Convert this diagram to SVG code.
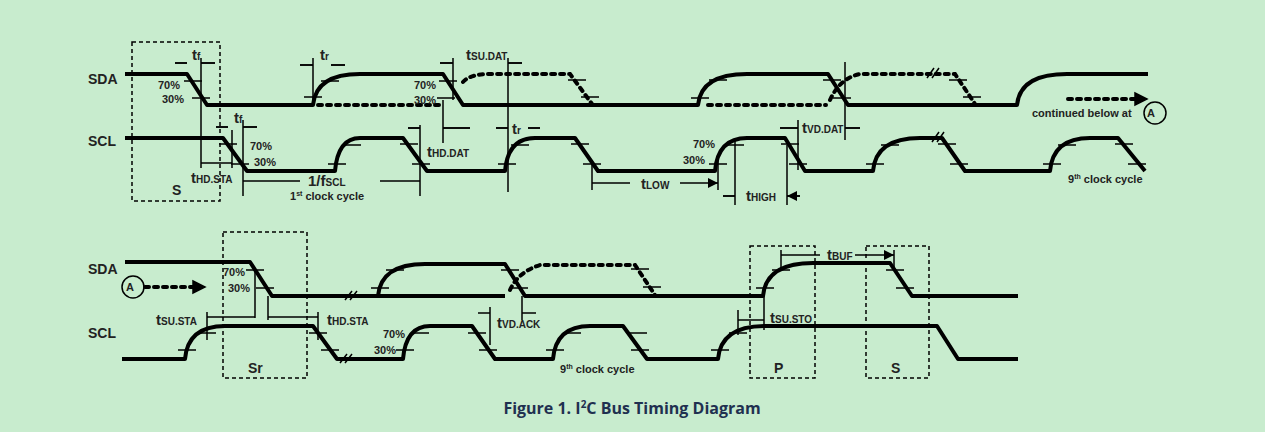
<svg xmlns="http://www.w3.org/2000/svg" width="1265" height="432" viewBox="0 0 1265 432">
<style>
.sig{fill:none;stroke:#000;stroke-width:4;stroke-linejoin:round}
.dot{fill:none;stroke:#000;stroke-width:4;stroke-dasharray:4 5;stroke-linecap:round}
.tk{stroke:#000;stroke-width:1.6}
.dim{stroke:#000;stroke-width:1.5;fill:none}
.box{fill:none;stroke:#000;stroke-width:1.5;stroke-dasharray:4 3}
text{font-family:"Liberation Sans",Arial,sans-serif;font-weight:bold;fill:#222}
.lb{font-size:14px}
.t{font-size:15px}
.s{font-size:10px}
.p{font-size:11px}
</style>
<defs>
<marker id="ah" viewBox="0 0 10 10" refX="10" refY="5" markerWidth="10" markerHeight="10" markerUnits="userSpaceOnUse" orient="auto"><path d="M0,0L10,5L0,10z" fill="#000"/></marker>
</defs>
<rect width="1265" height="432" fill="#c8ecce"/>
<g id="labels">
<text class="lb" x="88" y="84">SDA</text><text class="lb" x="88" y="146">SCL</text>
<text class="lb" x="88" y="274">SDA</text><text class="lb" x="88" y="338">SCL</text>
</g>
<g id="signals">
<path class="sig" d="M125,74H187L207,105H313Q316,74 360,74H443L463,105H698Q701,74 747,74H828L848,105H1017Q1020,74 1067,74H1148"/>
<path class="dot" d="M318,105H440M463,82Q470,74 490,74H570L592,104M708,105H826M830,100Q840,78 860,74H955L975,104"/>
<path class="sig" d="M125,138H223L247,171H335Q338,138 360,138H403L427,171H505Q508,138 535,138H575L598,171H715Q718,138 747,138H785L805,171H873Q876,138 920,138H942L965,171H1050Q1053,138 1090,138H1118L1145,171"/>
<path class="sig" d="M125,262H250L272,296H505M378,296Q381,264 425,264H505L525,296H763Q766,263 813,263H890L912,296H1018"/>
<path class="dot" d="M510,290Q518,272 540,265H635L655,295"/>
<path class="sig" d="M122,359H185Q188,326 225,326H313L337,359H403Q406,326 430,326H472L495,359H553Q556,326 590,326H623L647,359H718Q721,326 765,326H937L958,359H1018"/>
<path class="dim" stroke-width="2" d="M927,78l7,-10M932,78l7,-10M932,142l7,-10M937,142l7,-10M345,300l7,-9M350,300l7,-9M340,363l7,-9M345,363l7,-9"/>
</g>
<g id="ticks" class="tk">
<path d="M184,81h18M192,98h18M304,97h18M321,81h18M439,81h18M437,98h18M568,80h18M581,97h18M691,98h18M709,80h18M823,80h18M833,98h18M949,80h18M963,97h18
M219,144h18M231,164h18M328,164h18M343,145h18M400,144h18M412,164h18M498,164h18M511,145h18M571,144h18M583,164h18M709,164h18M726,145h18M781,144h18M789,164h18M866,164h18M881,145h18M938,144h18M950,164h18M1043,164h18M1058,145h18M1115,144h18M1128,164h18
M246,270h18M256,288h18M371,288h18M386,270h18M501,270h18M510,288h18M631,269h18M643,287h18M756,288h18M772,270h18M886,270h18M896,288h18
M178,350h18M198,333h18M309,333h18M321,350h18M396,350h18M411,333h18M468,333h18M479,350h18M546,350h18M563,333h18M629,333h18M631,350h18M711,350h18M729,333h18"/>
</g>
<g id="boxes">
<rect class="box" x="132" y="42" width="88" height="159"/>
<rect class="box" x="223" y="232" width="84" height="146"/>
<rect class="box" x="750" y="246" width="65" height="132"/>
<rect class="box" x="866" y="246" width="63" height="132"/>
<text class="lb" x="172" y="195">S</text><text class="lb" x="248" y="373">Sr</text>
<text class="lb" x="774" y="373">P</text><text class="lb" x="891" y="373">S</text>
</g>
<g id="connectors" class="dim">
<path d="M201,58V168M232,130V168M243,120V196M420,125V196M313,58V100M443,100V143M453,58V100M508,58V192M592,160V190M718,160V190M735,140V205M787,145V205M798,120V170M845,62V140"/>
<path d="M175,63H187M215,63H201M216,127H228M257,127H243M300,65H313M345,65H331M440,63H453M522,63H508M470,128H443M408,128H420M496,128H508M540,128H528M780,128H798M860,128H845M723,196H735M800,196H787"/>
<g marker-end="url(#ah)">
<path d="M175,63H187M215,63H201M216,127H228M257,127H243M300,65H313M345,65H331M440,63H453M522,63H508M470,128H443M408,128H420M496,128H508M540,128H528M780,128H798M860,128H845M723,196H735M800,196H787"/>
<path d="M216,163H201M216,163H232M300,181H243M380,181H420M630,183H592M680,183H718"/>
<path d="M231,317H207M231,317H255M293,317H268M293,317H318M478,313H490M536,313H522M751,320H738M751,320H764M820,255H781M855,255H894"/>
</g>
<path d="M207,312V340M255,270V318M268,296V320M318,312V340M490,307V345M522,296V320M738,310V335M764,296V330M781,250V268M894,250V268"/>
<path class="dot" stroke-width="3" d="M1068,99H1135M145,287H193"/>
<path d="M1135,93L1147,99L1135,105zM193,281L205,287L193,293z" fill="#000"/>
<circle cx="1155" cy="113" r="11"/><circle cx="133" cy="287" r="11"/>
</g>
<g id="annot">
<text class="p" x="1147" y="117" font-size="11">A</text><text class="p" x="126" y="291">A</text>
<text class="p" x="1032" y="117">continued below at</text>
<text class="t" x="192" y="60">t<tspan class="s">f</tspan></text>
<text class="t" x="234" y="123">t<tspan class="s">f</tspan></text>
<text class="t" x="320" y="60">t<tspan class="s">r</tspan></text>
<text class="t" x="512" y="134">t<tspan class="s">r</tspan></text>
<text class="t" x="466" y="60">t<tspan class="s">SU.DAT</tspan></text>
<text class="t" x="427" y="157">t<tspan class="s">HD.DAT</tspan></text>
<text class="t" x="191" y="183">t<tspan class="s">HD.STA</tspan></text>
<text class="t" x="308" y="186">1/f<tspan class="s">SCL</tspan></text>
<text class="p" x="290" y="200">1<tspan font-size="7" dy="-4">st</tspan><tspan dy="4"> clock cycle</tspan></text>
<text class="p" x="158" y="89">70%</text><text class="p" x="162" y="103">30%</text>
<text class="p" x="250" y="150">70%</text><text class="p" x="254" y="166">30%</text>
<text class="p" x="414" y="89">70%</text><text class="p" x="414" y="104">30%</text>
<text class="p" x="693" y="148">70%</text><text class="p" x="683" y="164">30%</text>
<text class="t" x="641" y="189">t<tspan class="s">LOW</tspan></text>
<text class="t" x="746" y="201">t<tspan class="s">HIGH</tspan></text>
<text class="t" x="802" y="133">t<tspan class="s">VD.DAT</tspan></text>
<text class="p" x="1068" y="183">9<tspan font-size="7" dy="-4">th</tspan><tspan dy="4"> clock cycle</tspan></text>
<text class="p" x="223" y="276">70%</text><text class="p" x="228" y="292">30%</text>
<text class="t" x="156" y="325">t<tspan class="s">SU.STA</tspan></text>
<text class="t" x="327" y="325">t<tspan class="s">HD.STA</tspan></text>
<text class="t" x="497" y="328">t<tspan class="s">VD.ACK</tspan></text>
<text class="p" x="383" y="338">70%</text><text class="p" x="374" y="354">30%</text>
<text class="p" x="560" y="373">9<tspan font-size="7" dy="-4">th</tspan><tspan dy="4"> clock cycle</tspan></text>
<text class="t" x="770" y="323">t<tspan class="s">SU.STO</tspan></text>
<text class="t" x="827" y="260">t<tspan class="s">BUF</tspan></text>
<text x="632" y="414" text-anchor="middle" font-size="16" style="fill:#1f3050;font-family:'Open Sans','Liberation Sans',sans-serif">Figure 1. I<tspan font-size="10" dy="-6">2</tspan><tspan dy="6">C Bus Timing Diagram</tspan></text>
</g>
</svg>
